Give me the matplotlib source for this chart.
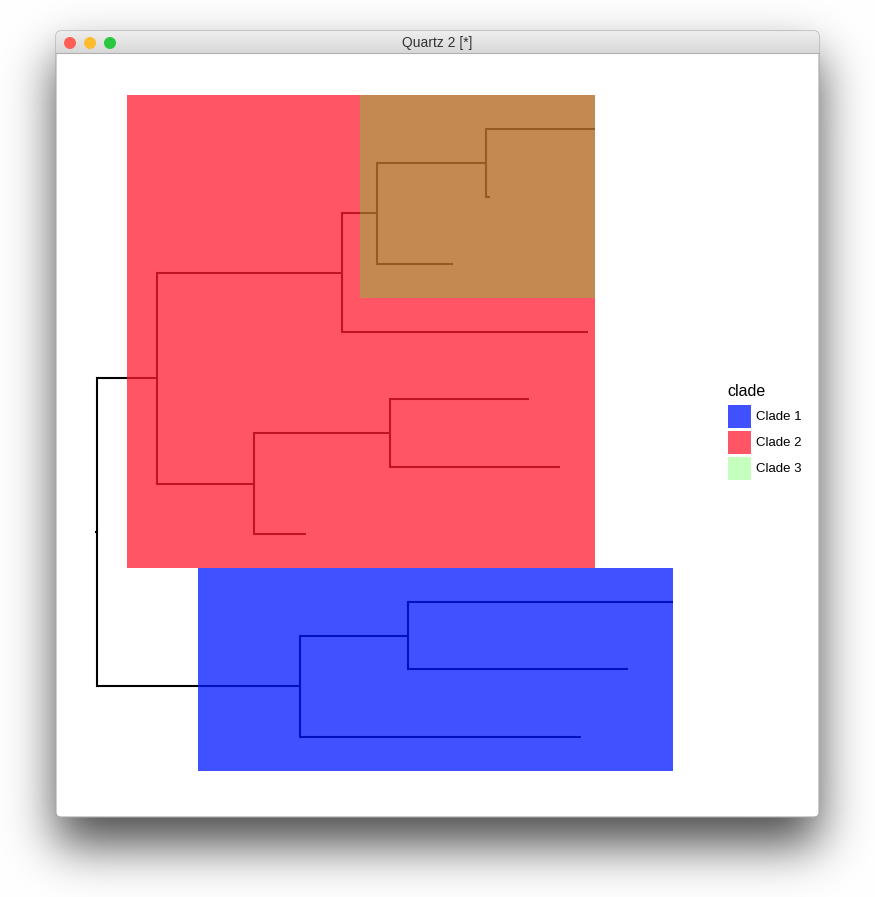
import numpy as np
import matplotlib.pyplot as plt
from matplotlib.patches import Rectangle, FancyBboxPatch, Circle

# tree: node names, parent and branch length (tips listed with their y rank)
nodes = ['root', 'n2', 'n_up', 'n_a', 'n_b', 't1', 't2', 't3', 't4',
         'n_low', 'n_c', 't5', 't6', 't7', 'n1', 'n_d', 't8', 't9', 't10']
parents = ['', 'root', 'n2', 'n_up', 'n_a', 'n_b', 'n_b', 'n_a', 'n_up',
           'n2', 'n_low', 'n_c', 'n_c', 'n_low', 'root', 'n1', 'n_d', 'n_d', 'n1']
branch_len = [0.0, 0.60, 1.85, 0.35, 1.09, 1.09, 0.04, 0.76, 2.46,
              0.97, 1.36, 1.39, 1.70, 0.52, 2.03, 1.08, 2.65, 2.20, 2.81]
tip_y = {'t1': 10, 't2': 9, 't3': 8, 't4': 7, 't5': 6, 't6': 5, 't7': 4,
         't8': 3, 't9': 2, 't10': 1}

clade_nodes = ['n1', 'n2', 'n_a']
clade_labels = ['Clade 1', 'Clade 2', 'Clade 3']
clade_fill = ['#0018ff', '#ff1c30', '#3cff28']
clade_alpha = [0.75, 0.75, 0.30]

W, H = 875, 897
fig = plt.figure(figsize=(W / 100, H / 100), dpi=100)

# ---- window chrome (pixel coordinates) ----
bg = fig.add_axes([0, 0, 1, 1])
bg.set_xlim(0, W)
bg.set_ylim(H, 0)
bg.axis('off')

wx0, wx1, wy0, wy1 = 56, 819, 31, 817
mask = np.zeros((H, W))
mask[wy0 + 25:wy1 + 28, wx0:wx1] = 1.0
k = np.exp(-0.5 * (np.arange(-80, 81) / 24.0) ** 2)
k /= k.sum()
blur = np.apply_along_axis(lambda r: np.convolve(r, k, mode='same'), 0, mask)
blur = np.apply_along_axis(lambda r: np.convolve(r, k, mode='same'), 1, blur)
shade = 1 - 0.7 * blur
bg.imshow(np.dstack([shade, shade, shade]), extent=(0, W, H, 0), zorder=0,
          interpolation='bilinear')

bg.add_patch(FancyBboxPatch((wx0, wy0), wx1 - wx0, wy1 - wy0,
                            boxstyle='round,pad=0,rounding_size=5',
                            fc='white', ec='#a8a8a8', lw=0.8, zorder=1))
grad = np.linspace(0.93, 0.85, 30)[:, None] * np.ones((30, 10))
bar = bg.imshow(np.dstack([grad, grad, grad]), extent=(wx0, wx1, 53, wy0),
                zorder=2, aspect='auto')
bar.set_clip_path(FancyBboxPatch((wx0, wy0), wx1 - wx0, 40,
                                 boxstyle='round,pad=0,rounding_size=5',
                                 transform=bg.transData))
bg.plot([wx0, wx1], [53.5, 53.5], color='#b0b0b0', lw=0.8, zorder=3)
for cx, col in zip([70, 90, 110], ['#fe5f57', '#febc2e', '#28c840']):
    bg.add_patch(Circle((cx, 43), 6, fc=col, ec='none', zorder=3))
bg.text(437, 43, 'Quartz 2 [*]', ha='center', va='center', fontsize=10,
        color='#333333', family='Liberation Sans', zorder=4)

# ---- tree layout ----
idx = {n: i for i, n in enumerate(nodes)}
children = {n: [c for c, p in zip(nodes, parents) if p == n] for n in nodes}
xpos, ypos = {}, {}

def place_x(n, x0):
    xpos[n] = x0 + branch_len[idx[n]]
    for c in children[n]:
        place_x(c, xpos[n])

def place_y(n):
    if n in tip_y:
        ypos[n] = tip_y[n]
    else:
        ypos[n] = np.mean([place_y(c) for c in children[n]])
    return ypos[n]

def tips_of(n):
    if n in tip_y:
        return [n]
    return sum([tips_of(c) for c in children[n]], [])

place_x('root', 0.0)
place_y('root')

ax = fig.add_axes([56 / W, (H - 816) / H, (700 - 56) / W, (816 - 54) / H])
ax.set_xlim(-0.41, 6.03)
ax.set_ylim(-0.169, 11.11)
ax.axis('off')
ax.patch.set_alpha(0)

for n, p in zip(nodes, parents):
    if p:
        ax.plot([xpos[p], xpos[n]], [ypos[n], ypos[n]], color='black',
                lw=1.5, solid_capstyle='butt', zorder=1)
    if children[n]:
        ys = [ypos[c] for c in children[n]]
        ax.plot([xpos[n], xpos[n]], [min(ys), max(ys)], color='black',
                lw=1.5, solid_capstyle='projecting', zorder=1)
ax.plot([xpos['root'] - 0.015, xpos['root']], [ypos['root']] * 2,
        color='black', lw=1.5, zorder=1)

# highlight rectangles over each clade
for node, fill, a in zip(clade_nodes, clade_fill, clade_alpha):
    tips = tips_of(node)
    x0 = xpos[node] - branch_len[idx[node]] / 2
    x1 = max(xpos[t] for t in tips)
    y0 = min(tip_y[t] for t in tips) - 0.5
    y1 = max(tip_y[t] for t in tips) + 0.5
    ax.add_patch(Rectangle((x0, y0), x1 - x0, y1 - y0, fc=fill, alpha=a,
                           ec='none', zorder=2))

# legend
lg = fig.add_axes([0, 0, 1, 1])
lg.set_xlim(0, W)
lg.set_ylim(H, 0)
lg.axis('off')
lg.patch.set_alpha(0)
lg.text(727, 391, 'clade', fontsize=11.5, va='center', ha='left',
        family='Liberation Sans')
for i, (lab, fill, a) in enumerate(zip(clade_labels, clade_fill, clade_alpha)):
    top = 405 + 26 * i
    lg.add_patch(Rectangle((728, top), 23, 23, fc=fill, alpha=a, ec='none'))
    lg.text(756, top + 11.5, lab, fontsize=9.5, va='center', ha='left',
            family='Liberation Sans')

fig.savefig('out.png', dpi=100)
